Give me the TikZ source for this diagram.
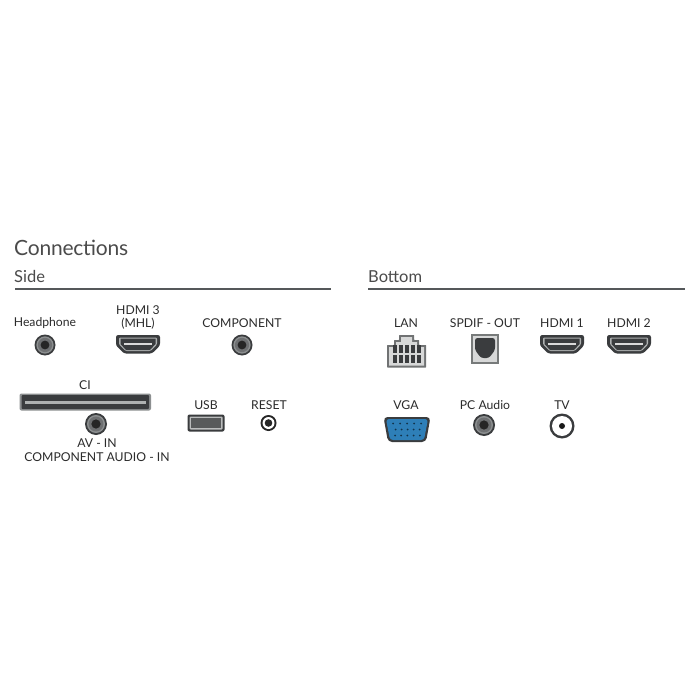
\documentclass[tikz,border=0pt]{standalone}
\usepackage{fontspec}
\setmainfont{Lato}
\definecolor{txt}{HTML}{2B2B2B}
\definecolor{rulec}{HTML}{55585A}
\definecolor{ring}{HTML}{8C8F90}
\definecolor{dk}{HTML}{3A3C3E}
\definecolor{mid}{HTML}{6E7072}
\definecolor{vga}{HTML}{2E7FB8}
\tikzset{
  lab/.style={font=\fontsize{12.2}{13}\selectfont,text=txt,inner sep=0pt,align=center},
  hdr/.style={text=txt!85!white,inner sep=0pt,anchor=base west},
  sep/.style={draw=rulec,line width=1.1pt},
  pics/jack/.style={code={
    \fill[dk] (0,0) circle (#1);
    \fill[ring] (0,0) circle (0.82*#1);
    \fill[mid] (0,0) circle (0.68*#1);
    \fill[black!85] (0,0) circle (0.42*#1);
  }},
  pics/hdmi/.style={code={
    \fill[dk,rounded corners=2.2pt] (-22,-9) -- (22,-9) -- (22,1.5) -- (14,9.5) -- (-14,9.5) -- (-22,1.5) -- cycle;
    \fill[ring!70!white,rounded corners=1.2pt] (-19,-6.5) -- (19,-6.5) -- (19,0.5) -- (12.5,7) -- (-12.5,7) -- (-19,0.5) -- cycle;
    \fill[dk] (-17.5,-5.5) -- (17.5,-5.5) -- (17.5,0) -- (12,6) -- (-12,6) -- (-17.5,0) -- cycle;
    \fill[white!85!black] (-14,-1.5) rectangle (14,0.5);
  }}
}
\begin{document}
\begin{tikzpicture}[x=1pt,y=-1pt]
\useasboundingbox[fill=white] (0,0) rectangle (700,700);
% headers
\node[hdr,font=\fontsize{21}{24}\selectfont\addfontfeature{LetterSpace=-1}] (conn) at (14,255) {Connections};
\node[hdr,font=\fontsize{16.5}{18}\selectfont] (side) at (14,282) {Side};
\node[hdr,font=\fontsize{16.5}{18}\selectfont] (bottom) at (368,282) {Bottom};
\draw[sep] (15,289) -- (331,289);
\draw[sep] (368,289) -- (685,289);
% labels
\node[lab] (lHead) at (45,323) {Headphone};
\node[lab,font=\fontsize{12.2}{13}\selectfont] (lH3) at (138,317.5) {HDMI 3\\(MHL)};
\node[lab] (lComp) at (242,323) {COMPONENT};
\node[lab] (lCI) at (85,385) {CI};
\node[lab] (lUSB) at (206,405) {USB};
\node[lab] (lRes) at (269,405) {RESET};
\node[lab] (lAV) at (97,443) {AV - IN};
\node[lab] (lCA) at (97,457) {COMPONENT AUDIO - IN};
\node[lab] (lLAN) at (406,323) {LAN};
\node[lab] (lSP) at (485,323) {SPDIF - OUT};
\node[lab] (lH1) at (562,323) {HDMI 1};
\node[lab] (lH2) at (629,323) {HDMI 2};
\node[lab] (lVGA) at (406,405) {VGA};
\node[lab] (lPC) at (485,405) {PC Audio};
\node[lab] (lTV) at (562,405) {TV};
% jacks
\pic at (45,345) {jack=10.5};
\pic at (242,345) {jack=10.5};
\pic at (96,424) {jack=11};
\pic at (484,425) {jack=11};
% HDMI
\pic at (138,344) {hdmi};
\pic at (562,344) {hdmi};
\pic at (629,344) {hdmi};
% CI
\fill[ring,rounded corners=2pt] (19.5,393.5) rectangle (151,410.5);
\fill[dk,rounded corners=1pt] (21.5,395) rectangle (149,409);
\fill[ring!70!white] (25,400.5) rectangle (146,404);
% USB
\fill[dk,rounded corners=2pt] (187.5,414.5) rectangle (224.5,431.5);
\fill[ring!60!white,rounded corners=1pt] (189.5,416.5) rectangle (222.5,429.5);
\fill[mid!80!black] (191,418) rectangle (221,428);
% RESET
\fill[black!85] (268.5,423) circle (8);
\fill[white] (268.5,423) circle (6);
\fill[black!85] (268.5,423) circle (3.8);
% TV
\fill[dk] (562,426) circle (12.5);
\fill[white] (562,426) circle (10);
\fill[black!90] (562,426) circle (3);
% LAN
\fill[ring!80!black,rounded corners=0.5pt]
  (387,345) -- (394,345) -- (394,340) -- (399,340) -- (399,335) -- (414,335) -- (414,340) -- (419,340) -- (419,345) -- (426,345) -- (426,367.5) -- (387,367.5) -- cycle;
\fill[ring!35!white]
  (389,347) -- (396,347) -- (396,342) -- (401,342) -- (401,337) -- (412,337) -- (412,342) -- (417,342) -- (417,347) -- (424,347) -- (424,365.5) -- (389,365.5) -- cycle;
\foreach \i in {0,1,2,3,4}{
  \fill[dk] (392.5+\i*6,345) rectangle +(4,7.5);
  \fill[dk] (392.5+\i*6,355) rectangle +(4,7.5);
}
% SPDIF
\fill[ring!85!black] (471,334) rectangle (499,364);
\fill[ring!35!white] (473,336) rectangle (497,361.5);
\fill[dk,rounded corners=2.5pt] (475,338) -- (495,338) -- (495,350) -- (489,358) -- (481,358) -- (475,350) -- cycle;
% VGA
\fill[dk,rounded corners=4pt] (383.5,417) -- (430.5,417) -- (426,442) -- (388,442) -- cycle;
\fill[vga,rounded corners=3pt] (386,419) -- (428,419) -- (424,440) -- (390,440) -- cycle;
\foreach \i in {0,...,4}{
  \fill[black!60!vga] (393+\i*7,423.5) circle (1);
  \fill[black!60!vga] (395.5+\i*6,429.5) circle (1);
  \fill[black!60!vga] (395+\i*6.2,435.5) circle (1);
}
\end{tikzpicture}
\end{document}
